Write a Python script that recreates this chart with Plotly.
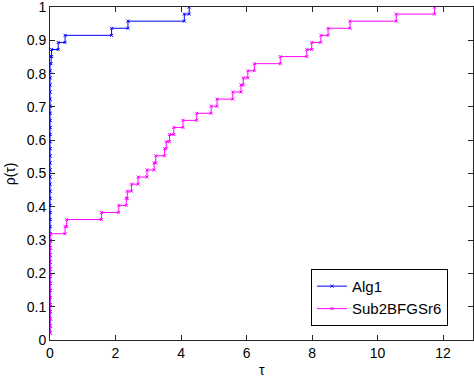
import plotly.graph_objects as go

# Performance-profile data: sorted log-ratios (tau) per solver, 47 problems
n_problems = 47
alg1_tau = [0.0] * 39 + [0.03, 0.05, 0.25, 0.46, 1.88, 2.38, 4.10, 4.25]
sub2_tau = [0.0] * 15 + [0.46, 0.51, 1.57, 2.10, 2.33, 2.36, 2.49, 2.69, 2.96,
                         3.18, 3.23, 3.50, 3.55, 3.65, 3.78, 4.06, 4.48, 4.92,
                         5.10, 5.58, 5.83, 5.90, 6.04, 6.24, 7.03, 7.84, 7.99,
                         8.27, 8.49, 9.16, 10.57, 11.74]
series_names = ["Alg1", "Sub2BFGSr6"]
series_colors = ["#0000ff", "#ff00ff"]
x_ticks = [0, 2, 4, 6, 8, 10, 12]
y_ticks = [0, 0.1, 0.2, 0.3, 0.4, 0.5, 0.6, 0.7, 0.8, 0.9, 1]
y_ticklabels = ["0", "0.1", "0.2", "0.3", "0.4", "0.5", "0.6", "0.7", "0.8", "0.9", "1"]
x_title = "τ"
y_title = "ρ(τ)"


def stairs(theta, n):
    """Mimic MATLAB stairs(): vertices at both corners of each step."""
    prob = [(i + 1) / n for i in range(n)]
    xs, ys = [theta[0]], [prob[0]]
    for i in range(1, n):
        xs += [theta[i], theta[i]]
        ys += [prob[i - 1], prob[i]]
    return xs, ys


fig = go.Figure()
for tau, name, col in zip([alg1_tau, sub2_tau], series_names, series_colors):
    xs, ys = stairs(tau, n_problems)
    fig.add_trace(go.Scatter(
        x=xs, y=ys, name=name, mode="lines+markers",
        line=dict(color=col, width=1),
        marker=dict(symbol="x-thin", size=3, color=col,
                    line=dict(color=col, width=1)),
    ))

xmax = 1.1 * max(max(alg1_tau), max(sub2_tau))

axis_font = dict(family="Liberation Sans, Arial, sans-serif", size=14, color="black")
legend_font = dict(family="Liberation Sans, Arial, sans-serif", size=15, color="black")
fig.update_layout(
    width=474, height=381,
    margin=dict(l=50, r=1, t=7, b=41),
    paper_bgcolor="white", plot_bgcolor="white",
    font=axis_font,
    showlegend=True,
    legend=dict(
        x=0.779, y=0.128, xanchor="center", yanchor="middle",
        bgcolor="white", bordercolor="black", borderwidth=1,
        font=legend_font, tracegroupgap=0, itemwidth=30,
    ),
    xaxis=dict(
        range=[0, xmax], tickvals=x_ticks, ticks="inside", ticklen=5,
        tickcolor="#262626", showline=True, linecolor="#262626", linewidth=1,
        mirror="ticks", showgrid=False, zeroline=False, automargin=False,
        tickfont=axis_font, ticklabeloverflow="allow",
    ),
    yaxis=dict(
        range=[0, 1], tickvals=y_ticks, ticktext=y_ticklabels, ticks="inside",
        ticklen=5, tickcolor="#262626", showline=True, linecolor="#262626",
        linewidth=1, mirror="ticks", showgrid=False, zeroline=False,
        automargin=False, tickfont=axis_font, ticklabeloverflow="allow",
    ),
    annotations=[
        dict(text=x_title, xref="paper", yref="paper", x=0.5, y=-0.09,
             xanchor="center", yanchor="middle", showarrow=False, font=axis_font),
        dict(text=y_title, xref="paper", yref="paper", x=-0.095, y=0.5,
             xanchor="center", yanchor="middle", showarrow=False,
             textangle=-90, font=axis_font),
    ],
)

fig.write_html("out.html", config={"displayModeBar": False},
               post_script="document.body.style.margin='0';document.body.style.padding='0';")
